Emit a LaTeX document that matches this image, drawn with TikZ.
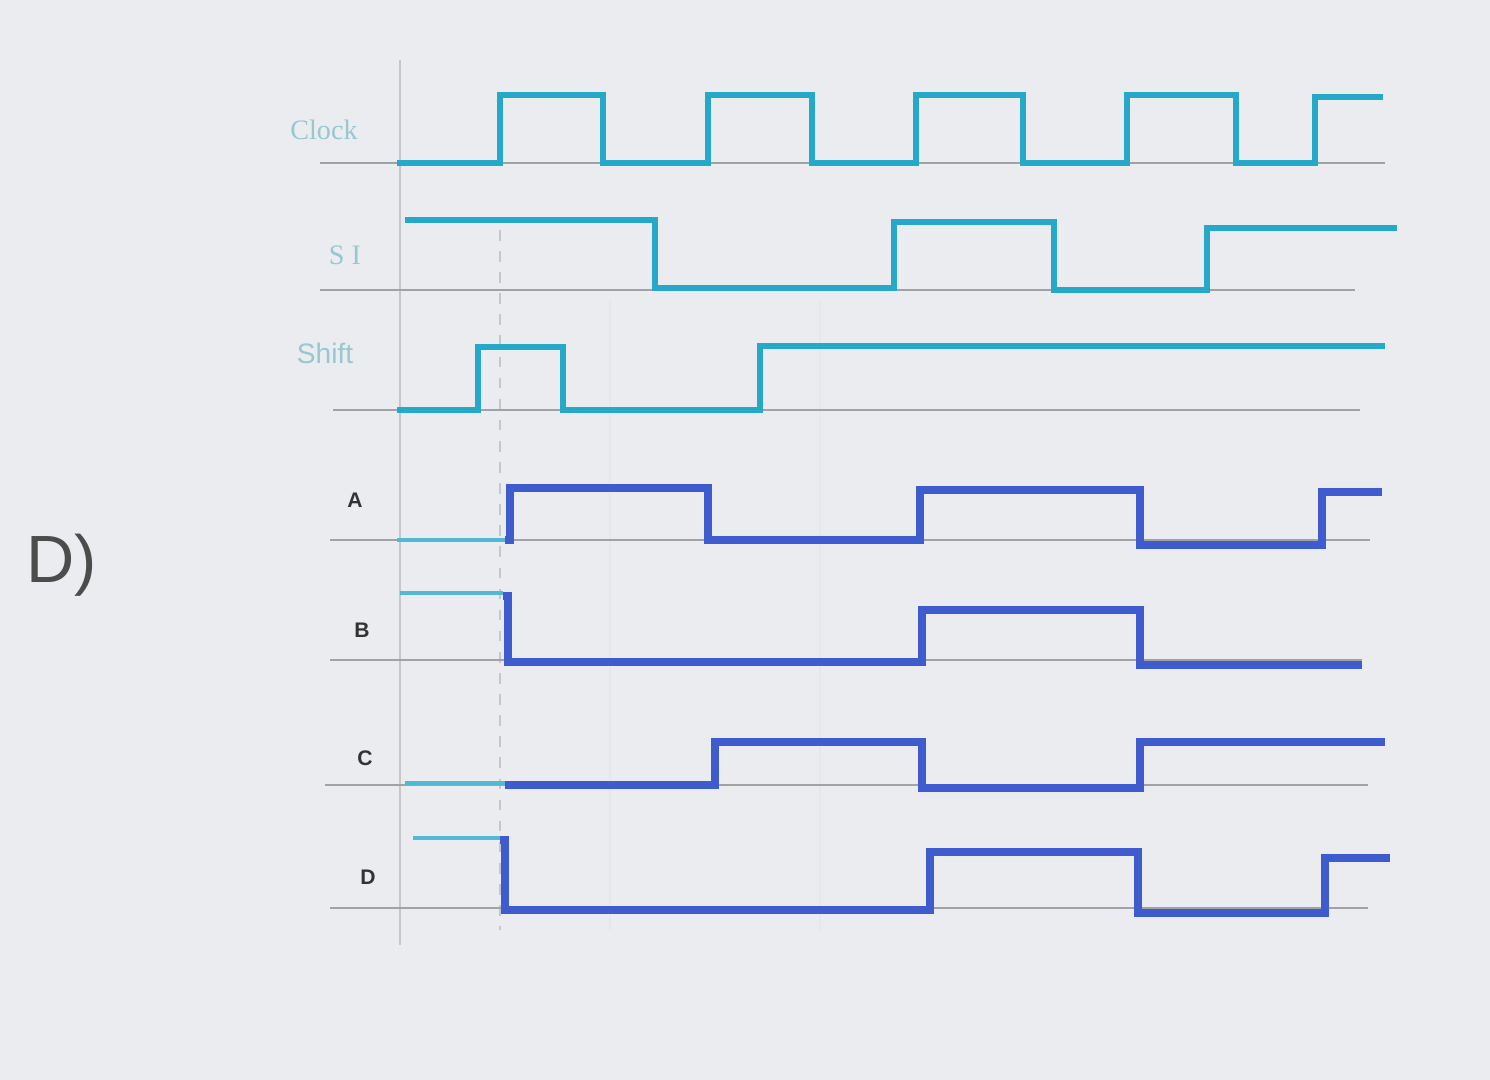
\documentclass[tikz,border=0pt]{standalone}
\usepackage{fontspec}
\setmainfont{Liberation Serif}
\setsansfont{Liberation Sans}
\definecolor{paper}{RGB}{234,236,239}
\definecolor{wavecyan}{RGB}{38,168,200}
\definecolor{waveblue}{RGB}{62,92,205}
\definecolor{gridgray}{RGB}{160,162,166}
\definecolor{labelcyan}{RGB}{150,200,210}

\tikzset{
	base/.style = {gridgray, line width=0.6pt},
	grid/.style = {gridgray!60, line width=0.5pt},
	inwave/.style = {wavecyan, line width=1.7pt},
	outwave/.style = {waveblue, line width=2.1pt},
	oldwave/.style = {wavecyan!80, line width=1.3pt},
	inlabel/.style = {labelcyan, font=\fontsize{8}{9}\selectfont},
	outlabel/.style = {black!80, font=\sffamily\bfseries\fontsize{6}{7}\selectfont}
}

\begin{document}
\begin{tikzpicture}[x=0.01cm,y=-0.01cm]
	\fill[paper] (0,0) rectangle (1490,1080);
	% faint time marks
	\draw[grid] (400,60) -- (400,945);
	\draw[grid,dashed] (500,230) -- (500,930);
	\draw[grid,gridgray!25] (610,300) -- (610,930);
	\draw[grid,gridgray!25] (820,300) -- (820,930);
	% base lines
	\draw[base] (320,163) -- (1385,163);
	\draw[base] (320,290) -- (1355,290);
	\draw[base] (333,410) -- (1360,410);
	\draw[base] (330,540) -- (1370,540);
	\draw[base] (330,660) -- (1362,660);
	\draw[base] (325,785) -- (1368,785);
	\draw[base] (330,908) -- (1368,908);
	% labels
	\node[inlabel] (lclk) at (324,130) {Clock};
	\node[inlabel] (lsi) at (345,255) {S I};
	\node[inlabel,font=\sffamily\fontsize{8}{9}\selectfont] (lshift) at (325,353) {Shift};
	\node[outlabel] (la) at (355,500) {A};
	\node[outlabel] (lb) at (362,630) {B};
	\node[outlabel] (lc) at (365,758) {C};
	\node[outlabel] (ld) at (368,877) {D};
	\node[black!70,font=\sffamily\fontsize{19}{22}\selectfont] (lpart) at (62,565) {D)};
	% inputs
	\draw[inwave] (397,163) -- (500,163) -- (500,95) -- (603,95) -- (603,163) -- (708,163) -- (708,95)
		-- (812,95) -- (812,163) -- (916,163) -- (916,95) -- (1023,95) -- (1023,163) -- (1127,163)
		-- (1127,95) -- (1236,95) -- (1236,163) -- (1315,163) -- (1315,97) -- (1383,97);
	\draw[inwave] (405,220) -- (655,220) -- (655,288) -- (894,288) -- (894,222) -- (1054,222)
		-- (1054,290) -- (1207,290) -- (1207,228) -- (1397,228);
	\draw[inwave] (397,410) -- (478,410) -- (478,347) -- (563,347) -- (563,410) -- (760,410)
		-- (760,346) -- (1385,346);
	% outputs
	\draw[oldwave] (397,540) -- (505,540);
	\draw[outwave] (505,540) -- (510,540) -- (510,488) -- (708,488) -- (708,540) -- (920,540)
		-- (920,490) -- (1140,490) -- (1140,545) -- (1322,545) -- (1322,492) -- (1382,492);
	\draw[oldwave] (400,593) -- (503,593);
	\draw[outwave] (503,596) -- (508,596) -- (508,662) -- (922,662) -- (922,610) -- (1140,610)
		-- (1140,665) -- (1362,665);
	\draw[oldwave] (405,783) -- (505,783);
	\draw[outwave] (505,785) -- (715,785) -- (715,742) -- (922,742) -- (922,788) -- (1140,788)
		-- (1140,742) -- (1385,742);
	\draw[oldwave] (413,838) -- (500,838);
	\draw[outwave] (500,840) -- (505,840) -- (505,910) -- (930,910) -- (930,852) -- (1138,852)
		-- (1138,913) -- (1325,913) -- (1325,858) -- (1390,858);
\end{tikzpicture}
\end{document}
